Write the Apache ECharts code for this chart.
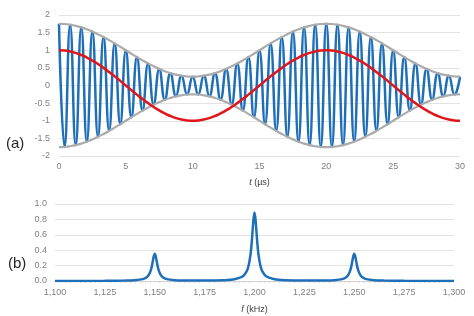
<!DOCTYPE html>
<html lang="en">
<head>
    <meta charset="UTF-8">
    <title>AM signal and spectrum</title>
    <script src="https://cdn.jsdelivr.net/npm/echarts@6/dist/echarts.min.js"></script>
</head>
<body style="margin:0;background:#fff">
<div id="chart" style="width:474px;height:316px"></div>
<script>
    // (a) time axis, µs - samples at the carrier peaks
    var times = [0,0.417,0.833,1.25,1.667,2.083,2.5,2.917,3.333,3.75,4.167,4.583,
        5,5.417,5.833,6.25,6.667,7.083,7.5,7.917,8.333,8.75,9.167,9.583,
        10,10.417,10.833,11.25,11.667,12.083,12.5,12.917,13.333,13.75,14.167,14.583,
        15,15.417,15.833,16.25,16.667,17.083,17.5,17.917,18.333,18.75,19.167,19.583,
        20,20.417,20.833,21.25,21.667,22.083,22.5,22.917,23.333,23.75,24.167,24.583,
        25,25.417,25.833,26.25,26.667,27.083,27.5,27.917,28.333,28.75,29.167,29.583,
        30];
    // modulated carrier (blue), peak values
    var signal = [1.75,-1.744,1.724,-1.693,1.650,-1.595,1.530,-1.457,1.375,-1.287,1.194,-1.098,1.0,-0.902,0.806,-0.713,0.625,-0.543,0.470,-0.405,0.351,-0.307,0.276,-0.256,0.25,
        -0.256,0.276,-0.307,0.351,-0.405,0.470,-0.543,0.625,-0.713,0.806,-0.902,1.0,-1.098,1.194,-1.287,1.375,-1.457,1.530,-1.595,1.650,-1.693,1.724,-1.744,1.75,
        -1.744,1.724,-1.693,1.650,-1.595,1.530,-1.457,1.375,-1.287,1.194,-1.098,1.0,-0.902,0.806,-0.713,0.625,-0.543,0.470,-0.405,0.351,-0.307,0.276,-0.256,0.25];
    // envelope (grey)
    var envelope = [1.75,1.744,1.724,1.693,1.650,1.595,1.530,1.457,1.375,1.287,1.194,1.098,1.0,0.902,0.806,0.713,0.625,0.543,0.470,0.405,0.351,0.307,0.276,0.256,0.25,
        0.256,0.276,0.307,0.351,0.405,0.470,0.543,0.625,0.713,0.806,0.902,1.0,1.098,1.194,1.287,1.375,1.457,1.530,1.595,1.650,1.693,1.724,1.744,1.75,
        1.744,1.724,1.693,1.650,1.595,1.530,1.457,1.375,1.287,1.194,1.098,1.0,0.902,0.806,0.713,0.625,0.543,0.470,0.405,0.351,0.307,0.276,0.256,0.25];
    // modulating tone (red)
    var tone = [1,0.991,0.966,0.924,0.866,0.793,0.707,0.609,0.5,0.383,0.259,0.131,0,-0.131,-0.259,-0.383,-0.5,-0.609,-0.707,-0.793,-0.866,-0.924,-0.966,-0.991,-1,
        -0.991,-0.966,-0.924,-0.866,-0.793,-0.707,-0.609,-0.5,-0.383,-0.259,-0.131,0,0.131,0.259,0.383,0.5,0.609,0.707,0.793,0.866,0.924,0.966,0.991,1,
        0.991,0.966,0.924,0.866,0.793,0.707,0.609,0.5,0.383,0.259,0.131,0,-0.131,-0.259,-0.383,-0.5,-0.609,-0.707,-0.793,-0.866,-0.924,-0.966,-0.991,-1];

    // (b) spectrum, kHz
    var freqs = [1100,1125,1135,1140,1144,1146,1147,1148,1148.5,1149,1149.5,1150,1150.5,1151,1151.5,1152,1153,1154,1156,1160,1165,1175,
        1185,1190,1194,1196,1197,1198,1198.5,1199,1199.5,1200,1200.5,1201,1201.5,1202,1203,1204,1206,1210,1215,
        1225,1235,1240,1244,1246,1247,1248,1248.5,1249,1249.5,1250,1250.5,1251,1251.5,1252,1253,1254,1256,1260,1265,1275,1300];
    var spectrum = [0,0.002,0.005,0.010,0.024,0.049,0.078,0.138,0.187,0.253,0.320,0.355,0.320,0.253,0.187,0.138,0.078,0.049,0.024,0.010,0.006,0.005,
        0.011,0.023,0.058,0.121,0.194,0.343,0.468,0.633,0.802,0.89,0.802,0.633,0.468,0.343,0.194,0.121,0.058,0.023,0.011,
        0.005,0.006,0.010,0.024,0.049,0.078,0.138,0.187,0.253,0.320,0.355,0.320,0.253,0.187,0.138,0.078,0.049,0.024,0.010,0.005,0.002,0];

    var font = "'Liberation Sans', Arial, sans-serif";
    var labelGrey = '#808080';
    var gridGrey = '#e3e3e3';

    function pairs(xs, ys, sign) {
        return xs.map(function (x, i) { return [x, ys[i] * (sign || 1)]; });
    }

    var _chart = echarts.init(document.getElementById('chart'));
    var option = {
        animation: false,
        textStyle: {fontFamily: font},
        graphic: [
            {type: 'text', left: 6, top: 136, style: {text: '(a)', font: '15px ' + font, fill: '#262626'}},
            {type: 'text', left: 8, top: 256, style: {text: '(b)', font: '15px ' + font, fill: '#262626'}}
        ],
        grid: [
            {left: 59, right: 14, top: 15, height: 141},
            {left: 55, right: 20, top: 204, height: 77}
        ],
        xAxis: [
            {
                type: 'value', gridIndex: 0, min: 0, max: 30, interval: 5,
                axisLine: {show: false}, axisTick: {show: false}, splitLine: {show: false},
                axisLabel: {color: labelGrey, fontSize: 9, margin: 6},
                name: '{i|t} (µs)', nameLocation: 'middle', nameGap: 22,
                nameTextStyle: {color: '#404040', fontSize: 9, rich: {i: {fontStyle: 'italic', fontSize: 9, color: '#404040'}}}
            },
            {
                type: 'value', gridIndex: 1, min: 1100, max: 1300, interval: 25,
                axisLine: {show: true, lineStyle: {color: '#d0d0d0'}},
                axisTick: {show: false},
                minorTick: {show: true, splitNumber: 10, length: 2, lineStyle: {color: '#d6d6d6'}},
                splitLine: {show: false},
                axisLabel: {
                    color: labelGrey, fontSize: 9, margin: 7,
                    formatter: function (v) { return v.toLocaleString('en-US'); }
                },
                name: '{i|f} (kHz)', nameLocation: 'middle', nameGap: 24,
                nameTextStyle: {color: '#404040', fontSize: 9, rich: {i: {fontStyle: 'italic', fontSize: 9, color: '#404040'}}}
            }
        ],
        yAxis: [
            {
                type: 'value', gridIndex: 0, min: -2, max: 2, interval: 0.5,
                axisLine: {show: false}, axisTick: {show: false},
                splitLine: {lineStyle: {color: gridGrey}},
                axisLabel: {color: labelGrey, fontSize: 9, margin: 9}
            },
            {
                type: 'value', gridIndex: 1, min: 0, max: 1, interval: 0.2,
                axisLine: {show: false}, axisTick: {show: false},
                splitLine: {lineStyle: {color: gridGrey}},
                axisLabel: {
                    color: labelGrey, fontSize: 9, margin: 8,
                    formatter: function (v) { return v.toFixed(1); }
                }
            }
        ],
        series: [
            {
                type: 'line', xAxisIndex: 0, yAxisIndex: 0, data: pairs(times, signal),
                smooth: 0.5, showSymbol: false, lineStyle: {color: '#1f6fb8', width: 2.5}, z: 2
            },
            {
                type: 'line', xAxisIndex: 0, yAxisIndex: 0, data: pairs(times, envelope),
                smooth: true, showSymbol: false, lineStyle: {color: '#ababab', width: 2.2}, z: 3
            },
            {
                type: 'line', xAxisIndex: 0, yAxisIndex: 0, data: pairs(times, envelope, -1),
                smooth: true, showSymbol: false, lineStyle: {color: '#ababab', width: 2.2}, z: 3
            },
            {
                type: 'line', xAxisIndex: 0, yAxisIndex: 0, data: pairs(times, tone),
                smooth: true, showSymbol: false, lineStyle: {color: '#e0161b', width: 2.5}, z: 4
            },
            {
                type: 'line', xAxisIndex: 1, yAxisIndex: 1, data: pairs(freqs, spectrum),
                smooth: 0.3, showSymbol: false, lineStyle: {color: '#1f6fb8', width: 2.5}, z: 2
            }
        ]
    };
    _chart.setOption(option, true);
</script>
</body>
</html>
